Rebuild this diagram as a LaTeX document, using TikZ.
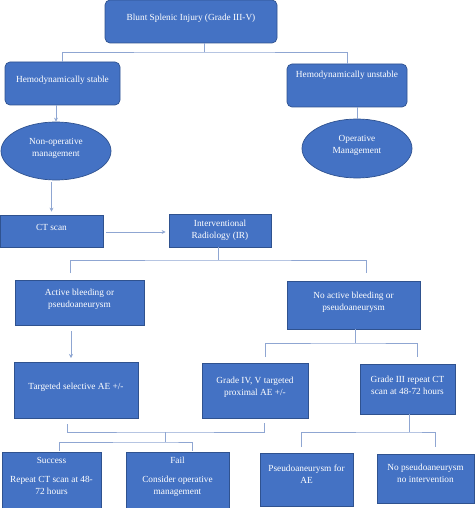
\documentclass[tikz,border=0pt]{standalone}
\usepackage{fontspec}
\setmainfont{Liberation Serif}
\usetikzlibrary{shapes.geometric,arrows.meta}
\definecolor{boxfill}{HTML}{4472C4}
\definecolor{boxline}{HTML}{2F528F}
\definecolor{connline}{HTML}{8FA6D2}
\tikzset{
  base/.style={fill=boxfill, draw=boxline, line width=0.7pt, text=white, align=center,
    font=\fontsize{9.3}{12}\selectfont, inner sep=2pt},
  rbox/.style={base, rectangle, rounded corners=5pt},
  sbox/.style={base, rectangle},
  ebox/.style={base, ellipse},
  conn/.style={draw=connline, line width=0.8pt},
  arr/.style={conn, -{Stealth[length=4pt,width=4pt]}},
}
\begin{document}
\begin{tikzpicture}[x=1pt,y=-1pt]
\useasboundingbox (0,0) rectangle (474,508);
% nodes
\node[rbox, minimum width=172, minimum height=43, text depth=9pt] (top) at (191,21.5) {Blunt Splenic Injury (Grade III-V)};
\node[rbox, minimum width=115, minimum height=43, text depth=9pt] (stable) at (62.5,83.5) {Hemodynamically stable};
\node[rbox, minimum width=120, minimum height=43, text depth=22pt] (unstable) at (347,85.5) {Hemodynamically unstable};
\node[ebox, minimum width=110, minimum height=58, text depth=8pt] (nonop) at (56,151) {Non-operative\\management};
\node[ebox, minimum width=110, minimum height=59, text depth=9pt] (op) at (357,148.5) {Operative\\Management};
\node[sbox, minimum width=103, minimum height=32, text depth=8pt] (ct) at (51.5,231) {CT scan};
\node[sbox, minimum width=102, minimum height=33] (ir) at (220,230.5) {Interventional\\Radiology (IR)};
\node[sbox, minimum width=129, minimum height=45, text depth=8pt] (active) at (79.5,302.5) {Active bleeding or\\pseudoaneurysm};
\node[sbox, minimum width=133, minimum height=48, text depth=8pt] (noactive) at (353.5,305) {No active bleeding or\\pseudoaneurysm};
\node[sbox, minimum width=124, minimum height=56, text depth=8pt] (targeted) at (76,390) {Targeted selective AE +/-};
\node[sbox, minimum width=106, minimum height=55, text depth=9pt] (g45) at (255,390.5) {Grade IV, V targeted\\proximal AE +/-};
\node[sbox, minimum width=95, minimum height=50, text depth=8pt] (g3) at (407.5,389) {Grade III repeat CT\\scan at 48-72 hours};
\node[sbox, minimum width=99, minimum height=56, text depth=8pt] (success) at (51.5,480) {Success\\[7pt]Repeat CT scan at 48-\\72 hours};
\node[sbox, minimum width=103, minimum height=56, text depth=8pt] (fail) at (177.5,480) {Fail\\[7pt]Consider operative\\management};
\node[sbox, minimum width=93, minimum height=53, text depth=10pt] (pseudo) at (306.5,479.5) {Pseudoaneurysm for\\AE};
\node[sbox, minimum width=97, minimum height=49, text depth=10pt] (nopseudo) at (425.5,478.5) {No pseudoaneurysm\\no intervention};
% junction coordinates
\coordinate (j1) at (204,52);
\coordinate (j2) at (218,260);
\coordinate (a2) at (70,273);
\coordinate (b2) at (366,273);
\coordinate (j3) at (355,343);
\coordinate (a3) at (265,357);
\coordinate (b3) at (417,357);
\coordinate (k1) at (67,424);
\coordinate (k2) at (264,423);
\coordinate (k3) at (165,432);
\coordinate (k4) at (165,442);
\coordinate (c4) at (59,451);
\coordinate (d4) at (192,451);
\coordinate (m1) at (409,432);
\coordinate (e5) at (301,447);
\coordinate (f5) at (435,447);
\coordinate (t1) at (71,331);
\coordinate (t2) at (71,358);
% connectors
\draw[conn] (j1 |- top.south) -- (j1);
\draw[conn] (stable.north) |- (j1) -| (unstable.north);
\draw[arr] (nonop.north |- stable.south) -- (nonop.north);
\draw[conn] (op.north |- unstable.south) -- (op.north);
\draw[arr, shorten <=2pt, shorten >=3pt] (nonop.south -| ct.north) -- (ct.north);
\draw[arr, shorten <=3pt, shorten >=3pt] (ct.east |- 0,232) -- (ir.west |- 0,232);
\draw[conn] (j2 |- ir.south) -- (j2);
\draw[conn] (a2) |- (j2) -| (b2);
\draw[arr] (t1) -- (t2);
\draw[conn] (j3 |- noactive.south) -- (j3);
\draw[conn] (a3) |- (j3) -| (b3);
\draw[conn] (k1) |- (k3) -| (k2);
\draw[conn] (k3) -- (k4);
\draw[conn] (c4) |- (k4) -| (d4);
\draw[conn] (m1 |- g3.south) -- (m1);
\draw[conn] (e5) |- (m1) -| (f5);
\end{tikzpicture}
\end{document}
